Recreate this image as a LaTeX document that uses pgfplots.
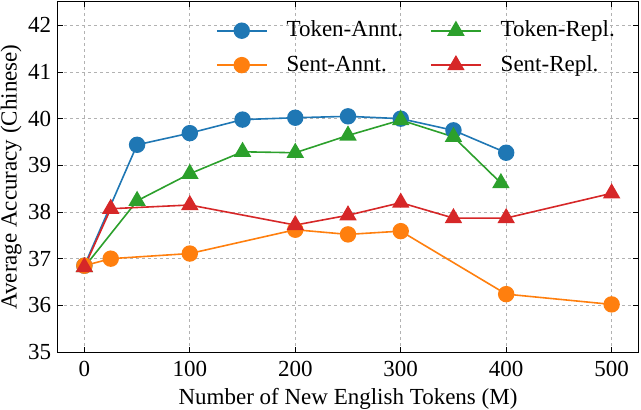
\documentclass[border=0pt]{standalone}
\usepackage{pgfplots}
\pgfplotsset{compat=1.18}
\usetikzlibrary{calc}
\usepackage{fontspec}
\setmainfont{Liberation Serif}
\definecolor{tblue}{HTML}{1F77B4}
\definecolor{torange}{HTML}{FF7F0E}
\definecolor{tgreen}{HTML}{2CA02C}
\definecolor{tred}{HTML}{D62728}
\begin{document}
\fontsize{23}{27}\selectfont
\begin{tikzpicture}
\begin{axis}[
  name=ax,
  scale only axis,
  width=580pt, height=350pt,
  xmin=-25, xmax=525, ymin=35, ymax=42.5,
  xtick={0,100,200,300,400,500},
  ytick={35,36,37,38,39,40,41,42},
  tick align=inside,
  xtick pos=both, ytick pos=both,
  major tick length=5pt,
  tick style={black, line width=0.8pt},
  axis line style={black, line width=1pt},
  grid=major,
  grid style={gray!60, dashed, line width=0.7pt},
  /pgf/number format/assume math mode=true,
  ticklabel style={font=\fontsize{23}{27}\selectfont},
  xticklabel style={yshift=-1pt},
  yticklabel style={xshift=1pt},
  label style={font=\fontsize{23}{27}\selectfont},
  xlabel={Number of New English Tokens (M)},
  ylabel={Average Accuracy (Chinese)},
  xlabel style={yshift=4pt},
  ylabel style={yshift=-9pt},
  legend columns=2,
  legend cell align=left,
  legend style={draw=none, fill=none, at={(rel axis cs:0.272,0.952)}, anchor=north west,
    inner sep=0pt,
    font=\fontsize{23}{27}\selectfont, row sep=11pt,
    /tikz/every odd column/.append style={column sep=17pt},
    /tikz/every even column/.append style={column sep=25pt}},
  legend image code/.code={
    \draw[line width=1.6pt, mark repeat=2,mark phase=2] plot coordinates {(0pt,0pt) (25pt,0pt) (50pt,0pt)};},
  every axis plot/.append style={line width=1.6pt, mark size=7.4pt},
]
\addplot[tblue, mark=*, mark options={solid, fill=tblue, draw=tblue}] coordinates {
(0,36.85) (50,39.44) (100,39.69) (150,39.98) (200,40.02) (250,40.05) (300,40.0) (350,39.75) (400,39.27)};
\addlegendentry{Token-Annt.}
\addplot[tgreen, mark=triangle*, mark size=8.5pt, mark options={solid, fill=tgreen, draw=tgreen}] coordinates {
(0,36.82) (50,38.24) (100,38.82) (150,39.29) (200,39.27) (250,39.64) (300,39.97) (350,39.61) (395,38.62)};
\addlegendentry{Token-Repl.}
\addplot[torange, mark=*, mark options={solid, fill=torange, draw=torange}] coordinates {
(0,36.85) (25,37.0) (100,37.11) (200,37.62) (250,37.52) (300,37.59) (400,36.24) (500,36.02)};
\addlegendentry{Sent-Annt.}
\addplot[tred, mark=triangle*, mark size=8.5pt, mark options={solid, fill=tred, draw=tred}] coordinates {
(0,36.82) (25,38.07) (100,38.15) (200,37.72) (250,37.93) (300,38.2) (350,37.87) (400,37.87) (500,38.4)};
\addlegendentry{Sent-Repl.}
\end{axis}
\pgfresetboundingbox
\path[use as bounding box] ($(ax.south west)+(-58pt,-57pt)$) rectangle ($(ax.north east)+(3pt,2pt)$);
\end{tikzpicture}
\end{document}
